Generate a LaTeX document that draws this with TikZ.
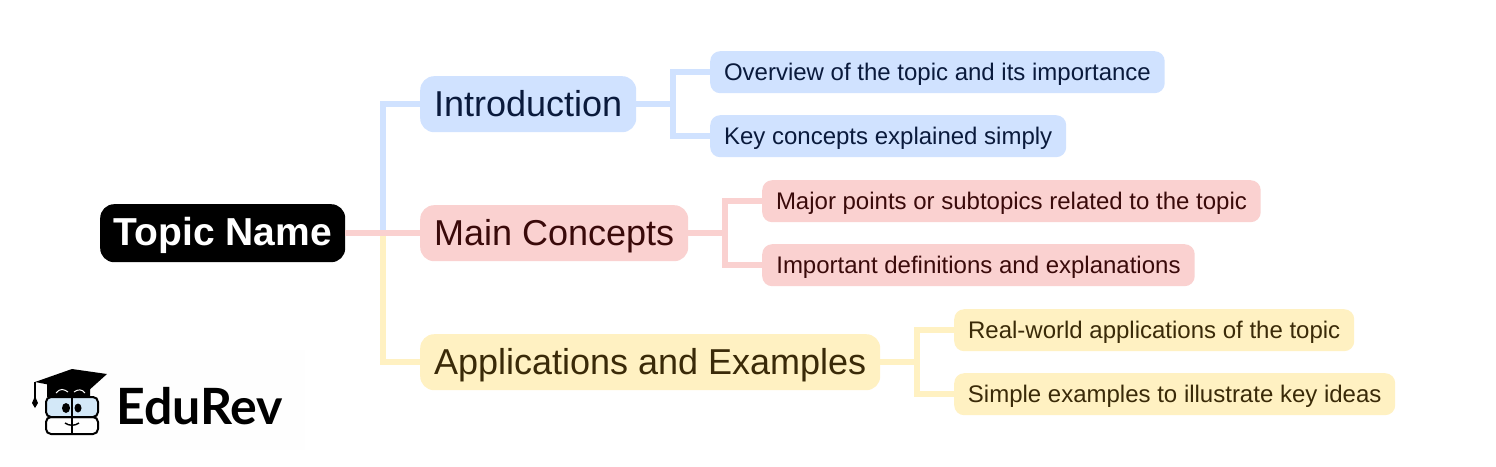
\documentclass[tikz,border=0pt]{standalone}
\usepackage{fontspec}
\setmainfont{Liberation Sans}
\newfontfamily\logofont{Lato}
\definecolor{bluefill}{HTML}{D0E2FF}
\definecolor{redfill}{HTML}{FAD1D0}
\definecolor{yellowfill}{HTML}{FFF1C2}
\definecolor{bluetext}{HTML}{0A1A3C}
\definecolor{redtext}{HTML}{3A0A0A}
\definecolor{yellowtext}{HTML}{3A2A08}
\definecolor{glass}{HTML}{D3E8F8}
\tikzset{
  x=1pt,y=-1pt,
  box/.style={anchor=north west,inner sep=0pt,align=center},
  topicbox/.style={box,fill=black,text=white,rounded corners=14pt,text height=24pt,text depth=0pt,font=\fontsize{39}{44}\selectfont\bfseries},
  midbox/.style={box,rounded corners=14pt,text height=24pt,text depth=0pt,font=\fontsize{36}{42}\selectfont},
  leafbox/.style={box,rounded corners=10pt,text height=17pt,text depth=0pt,font=\fontsize{24}{28}\selectfont},
  bluestyle/.style={fill=bluefill,text=bluetext},
  redstyle/.style={fill=redfill,text=redtext},
  yellowstyle/.style={fill=yellowfill,text=yellowtext},
  wire/.style={line width=6pt,line join=miter},
  logoline/.style={draw=black,line width=2pt},
}
\newcommand{\placebox}[7]{\node[#2,minimum width=#5pt-#3pt,minimum height=#6pt-#4pt] (#1) at (#3,#4) {#7};}
\begin{document}
\begin{tikzpicture}
\useasboundingbox (0,0) rectangle (1496,466);
\fill[white] (0,0) rectangle (1496,466);
\fill[fill=black!0.3!white] (10,350) rectangle (305,450);

\placebox{topic}{topicbox}{100}{204}{345}{262}{Topic Name}
\placebox{intro}{midbox,bluestyle}{420}{76}{636}{132}{Introduction}
\placebox{main}{midbox,redstyle}{420}{205}{688}{261}{Main Concepts}
\placebox{apps}{midbox,yellowstyle}{420}{334}{880}{390}{Applications and Examples}
\placebox{ia}{leafbox,bluestyle}{710}{51}{1164.5}{93}{Overview of the topic and its importance}
\placebox{ib}{leafbox,bluestyle}{710}{115}{1066}{157}{Key concepts explained simply}
\placebox{ma}{leafbox,redstyle}{762}{180}{1260.5}{222}{Major points or subtopics related to the topic}
\placebox{mb}{leafbox,redstyle}{762}{244}{1194.5}{286}{Important definitions and explanations}
\placebox{aa}{leafbox,yellowstyle}{954}{309}{1354}{351}{Real-world applications of the topic}
\placebox{ab}{leafbox,yellowstyle}{954}{373}{1395}{415}{Simple examples to illustrate key ideas}

\coordinate (hub) at (383,233);
\draw[wire,bluefill] (hub) |- (intro.west);
\draw[wire,yellowfill] (hub) |- (apps.west);
\draw[wire,redfill] (topic.east) -- (main.west);
\draw[wire,bluefill] (intro.east) -- ++(37,0) coordinate (ibus);
\draw[wire,bluefill] (ia.west) -| (ibus) |- (ib.west);
\draw[wire,redfill] (main.east) -- ++(37,0) coordinate (mbus);
\draw[wire,redfill] (ma.west) -| (mbus) |- (mb.west);
\draw[wire,yellowfill] (apps.east) -- ++(37,0) coordinate (abus);
\draw[wire,yellowfill] (aa.west) -| (abus) |- (ab.west);

% logo
\draw[logoline,fill=glass,rounded corners=5pt] (46,397) rectangle (98,417);
\draw[logoline,rounded corners=5pt] (46,417) rectangle (98,434);
\fill[black] (47,383) -- (47,397) -- (90,397) -- (90,388) -- cycle;
\fill[black] (35,382) -- (72,369) -- (107,374) -- (87,392) -- cycle;
\draw[white,line width=1pt] (56,393) .. controls (60,388) and (64,389) .. (68,392);
\draw[white,line width=1pt] (74,392) .. controls (78,389) and (82,389) .. (85,393);
\draw[black,line width=1.2pt] (35,382) -- (35,398);
\fill[black] (35,396) -- (38,403) -- (35,408) -- (32,403) -- cycle;
\draw[black,line width=2.2pt] (72,394) -- (72,435);
\fill[black] (66,408) ellipse [x radius=4,y radius=5];
\fill[black] (78,408) ellipse [x radius=3.5,y radius=4.5];
\draw[black,line width=1.4pt] (65,423) .. controls (69,426) and (75,426) .. (79,423);
\node[anchor=base west,inner sep=0pt,font=\logofont\bfseries\fontsize{50}{54}\selectfont,text=black] (logotext) at (116,424) {EduRev};
\end{tikzpicture}
\end{document}
